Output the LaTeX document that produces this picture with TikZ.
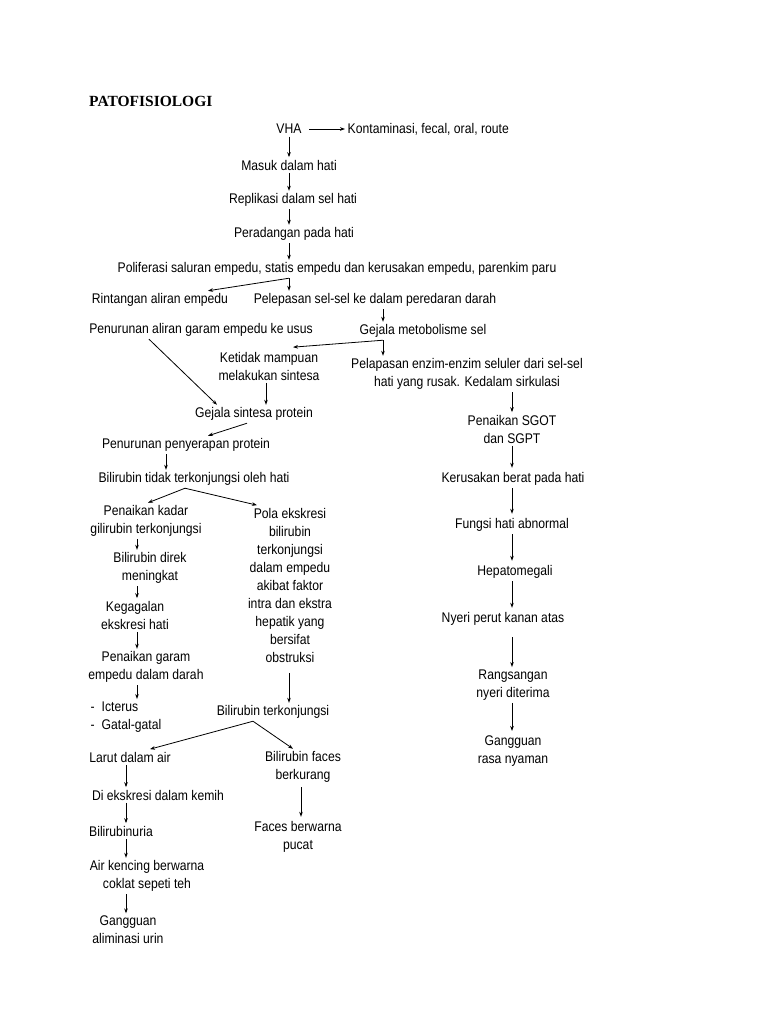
\documentclass[tikz,border=0pt]{standalone}
\usepackage{fontspec}
\setmainfont[FakeStretch=0.87]{Liberation Sans}
\newfontfamily\titlefont{Liberation Serif}
\usetikzlibrary{arrows.meta,calc}
\begin{document}
\begin{tikzpicture}[x=1pt,y=-1pt,
  lbl/.style={inner sep=2.5pt, align=center, font=\fontsize{14}{18}\selectfont},
  arr/.style={-{Stealth[length=5pt,width=3.6pt]}, line width=0.8pt},
  ln/.style={line width=0.8pt}]
\useasboundingbox (0,0) rectangle (768,1024);
\fill[white] (0,0) rectangle (768,1024);
% guides
\coordinate (gA) at (289,0);
\coordinate (gB) at (383,0);
\coordinate (gC) at (512,0);
\coordinate (gD) at (266,0);
\coordinate (gE) at (166,0);
\coordinate (gF) at (137,0);
\coordinate (gG) at (126,0);
\coordinate (gH) at (301,0);

\node[anchor=west, inner sep=0, font=\titlefont\bfseries\fontsize{15.5}{17}\selectfont] (title) at (89,101) {PATOFISIOLOGI};

\node[lbl] (vha) at (289,129) {VHA};
\node[lbl, anchor=west] (kont) at (345,129) {Kontaminasi, fecal, oral, route};
\node[lbl] (masuk) at (289,165) {Masuk dalam hati};
\node[lbl] (repl) at (293,200) {Replikasi dalam sel hati};
\node[lbl] (perad) at (294,234) {Peradangan pada hati};
\node[lbl] (poli) at (337,269) {Poliferasi saluran empedu, statis empedu dan kerusakan empedu, parenkim paru};
\node[lbl] (rint) at (160,300) {Rintangan aliran empedu};
\node[lbl] (pelep) at (375,300) {Pelepasan sel-sel ke dalam peredaran darah};
\node[lbl] (penur) at (201,330) {Penurunan aliran garam empedu ke usus};
\node[lbl] (gejmet) at (423,331) {Gejala metobolisme sel};
\node[lbl] (ketid) at (269,366) {Ketidak mampuan\\melakukan sintesa};
\node[lbl] (pelap) at (467,374) {Pelapasan enzim-enzim seluler dari sel-sel\\hati yang rusak. Kedalam sirkulasi};
\node[lbl] (gejsin) at (254,414) {Gejala sintesa protein};
\node[lbl] (penser) at (186,445) {Penurunan penyerapan protein};
\node[lbl] (bili) at (194,479) {Bilirubin tidak terkonjungsi oleh hati};

\node[lbl] (sgot) at (512,429) {Penaikan SGOT\\dan SGPT};
\node[lbl] (kerus) at (513,479) {Kerusakan berat pada hati};
\node[lbl] (fungsi) at (512,525) {Fungsi hati abnormal};
\node[lbl] (hepato) at (515,572) {Hepatomegali};
\node[lbl] (nyeri) at (503,619) {Nyeri perut kanan atas};
\node[lbl] (rangs) at (513,685) {Rangsangan\\nyeri diterima};
\node[lbl] (ggrasa) at (513,751) {Gangguan\\rasa nyaman};

\node[lbl] (penkad) at (146,521) {Penaikan kadar\\gilirubin terkonjungsi};
\node[lbl] (direk) at (150,568) {Bilirubin direk\\meningkat};
\node[lbl] (kegag) at (135,615) {Kegagalan\\ekskresi hati};
\node[lbl] (garam) at (146,667) {Penaikan garam\\empedu dalam darah};
\node[lbl, align=left, anchor=west] (icter) at (88,717) {-\hspace{7pt}Icterus\\-\hspace{7pt}Gatal-gatal};
\node[lbl] (pola) at (290,585) {Pola ekskresi\\bilirubin\\terkonjungsi\\dalam empedu\\akibat faktor\\intra dan ekstra\\hepatik yang\\bersifat\\obstruksi};
\node[lbl] (biliterk) at (273,712) {Bilirubin terkonjungsi};
\node[lbl] (larut) at (130,757) {Larut dalam air};
\node[lbl] (faces) at (303,767) {Bilirubin faces\\berkurang};
\node[lbl] (ekskr) at (158,795) {Di ekskresi dalam kemih};
\node[lbl] (biluria) at (121,831) {Bilirubinuria};
\node[lbl] (airk) at (147,876) {Air kencing berwarna\\coklat sepeti teh};
\node[lbl] (ggalim) at (128,930) {Gangguan\\aliminasi urin};
\node[lbl] (pucat) at (298,837) {Faces berwarna\\pucat};

% branch points
\coordinate (b1) at (poli.south -| gA);
\coordinate (b2) at (gejmet.south -| gB);
\coordinate (b3) at ($(bili.south)+(-9,0)$);
\coordinate (b4) at ($(biliterk.south)+(-20,0)$);

% connectors
\draw[arr] ($(vha.east)+(5,0)$) -- ($(kont.west)+(0,0)$);
\draw[arr] (vha.south -| gA) -- (masuk.north -| gA);
\draw[arr] (masuk.south -| gA) -- (repl.north -| gA);
\draw[arr] (repl.south -| gA) -- (perad.north -| gA);
\draw[arr] (perad.south -| gA) -- (poli.north -| gA);
\draw[arr] (b1) -- ($(rint.north)+(48,0)$);
\draw[arr] (b1) -- (pelep.north -| gA);
\draw[arr] (pelep.south -| gB) -- (gejmet.north -| gB);
\draw[arr] (b2) -- ($(ketid.north)+(24,-2)$);
\draw[arr] (b2) -- (pelap.north -| gB);
\draw[arr] ($(penur.south)+(-52,0)$) -- ($(gejsin.north)+(-37,0)$);
\draw[arr] (ketid.south -| gD) -- (gejsin.north -| gD);
\draw[arr] ($(gejsin.south)+(-7,0)$) -- ($(penser.north)+(22,0)$);
\draw[arr] (penser.south -| gE) -- (bili.north -| gE);
\draw[arr] (b3) -- ($(penkad.north)+(2,0)$);
\draw[arr] (b3) -- ($(pola.north)+(-33,0)$);

\draw[arr] (pelap.south -| gC) -- (sgot.north -| gC);
\draw[arr] (sgot.south -| gC) -- ($(kerus.north -| gC)+(0,-2)$);
\draw[arr] (kerus.south -| gC) -- ($(fungsi.north -| gC)+(0,-2)$);
\draw[arr] (fungsi.south -| gC) -- ($(hepato.north -| gC)+(0,-2)$);
\draw[arr] (hepato.south -| gC) -- ($(nyeri.north -| gC)+(0,-2)$);
\draw[arr] ($(nyeri.south -| gC)+(0,9)$) -- (rangs.north -| gC);
\draw[arr] (rangs.south -| gC) -- ($(ggrasa.north -| gC)+(0,-2)$);

\draw[arr] (penkad.south -| gF) -- (direk.north -| gF);
\draw[arr] (direk.south -| gF) -- (kegag.north -| gF);
\draw[arr] (kegag.south -| gF) -- (garam.north -| gF);
\draw[arr] (garam.south -| gF) -- (icter.north -| gF);
\draw[arr] ($(pola.south -| gA)+(0,8)$) -- (biliterk.north -| gA);
\draw[arr] (b4) -- ($(larut.north)+(20,0)$);
\draw[arr] (b4) -- ($(faces.north)+(-10,0)$);
\draw[arr] (larut.south -| gG) -- (ekskr.north -| gG);
\draw[arr] (ekskr.south -| gG) -- (biluria.north -| gG);
\draw[arr] (biluria.south -| gG) -- (airk.north -| gG);
\draw[arr] (airk.south -| gG) -- (ggalim.north -| gG);
\draw[arr] ($(faces.south -| gH)+(0,2)$) -- ($(pucat.north -| gH)+(0,-2)$);
\end{tikzpicture}
\end{document}
